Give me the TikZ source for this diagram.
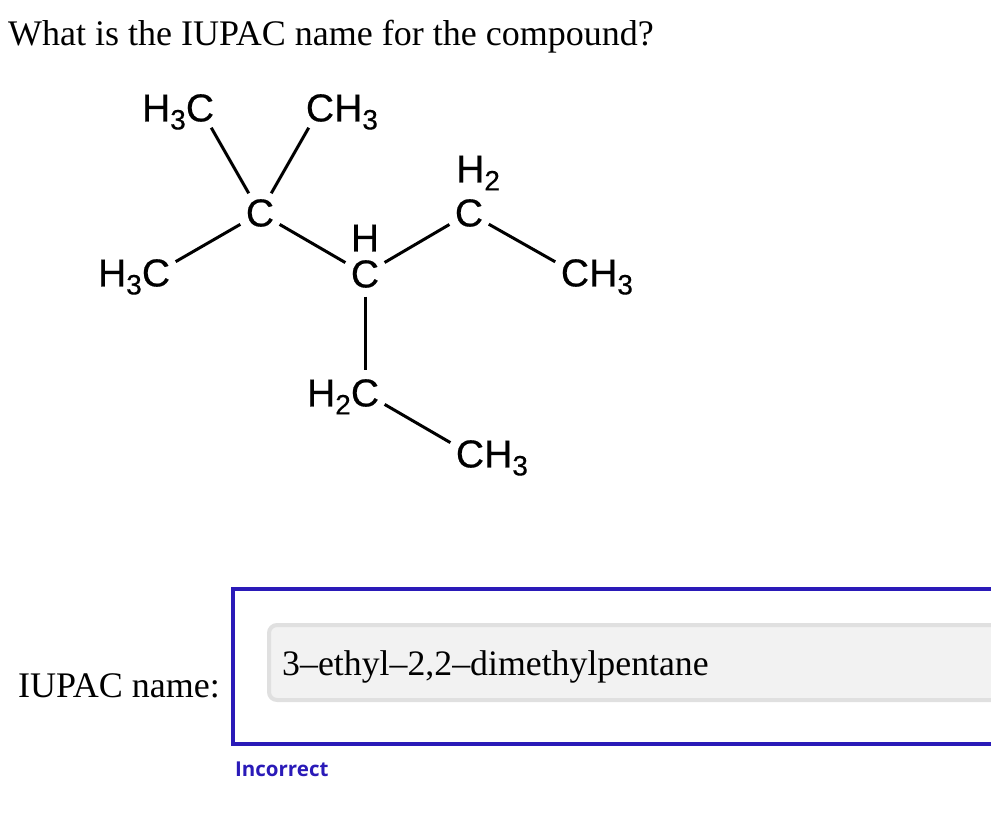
\documentclass[tikz,border=0pt]{standalone}
\usepackage{fontspec}
\setmainfont{Liberation Serif}
\setsansfont[FakeBold=0.4]{Liberation Sans}
\newfontfamily\notefont{Open Sans}
\usetikzlibrary{calc}
\definecolor{markblue}{HTML}{2A1AB8}
\definecolor{fieldgray}{HTML}{E0E0E0}
\definecolor{fieldfill}{HTML}{F2F2F2}
\newcommand{\atomsub}[1]{\raisebox{-8pt}{\fontsize{28}{28}\selectfont #1}}
\tikzset{
  atom/.style={circle,inner sep=0pt,minimum size=45pt,font=\fontsize{39}{39}\sffamily},
  atompart/.style={inner sep=0pt,font=\fontsize{39}{39}\sffamily},
  bond/.style={line width=3pt,black},
  pagetext/.style={inner sep=0pt,anchor=base west,font=\fontsize{36}{36}\selectfont}
}
\begin{document}
\begin{tikzpicture}[x=1pt,y=-1pt]
\useasboundingbox (0,0) rectangle (991,838);
%question
\node[pagetext] (QUESTION) at (8,45) {What is the IUPAC name for the compound?};
%carbons
\node[atom] (CQUAT) at (260,213) {C};
\node[atom] (CTOPL) at (200,108) {C};
\node[atom] (CTOPR) at (320,108) {C};
\node[atom] (CLEFT) at (156,273) {C};
\node[atom] (CHUB) at (365,274) {C};
\node[atom] (CRING) at (469,213) {C};
\node[atom] (CEND) at (575,273) {C};
\node[atom] (CLOW) at (365,393) {C};
\node[atom] (CBOT) at (470,454) {C};
%hydrogens
\node[atompart,anchor=base east] (HTOPL) at ($(CTOPL.base)+(-14,0)$) {H\atomsub{3}};
\node[atompart,anchor=base west] (HTOPR) at ($(CTOPR.base)+(14,0)$) {H\atomsub{3}};
\node[atompart,anchor=base east] (HLEFT) at ($(CLEFT.base)+(-14,0)$) {H\atomsub{3}};
\node[atompart,anchor=base] (HHUB) at ($(CHUB.base)+(0,-36)$) {H};
\node[atompart,anchor=base west] (HRING) at ($(CRING.base)+(-13,-44)$) {H\atomsub{2}};
\node[atompart,anchor=base west] (HEND) at ($(CEND.base)+(14,0)$) {H\atomsub{3}};
\node[atompart,anchor=base east] (HLOW) at ($(CLOW.base)+(-14,0)$) {H\atomsub{2}};
\node[atompart,anchor=base west] (HBOT) at ($(CBOT.base)+(14,0)$) {H\atomsub{3}};
%bonds
\draw[bond] (CTOPL) -- (CQUAT);
\draw[bond] (CTOPR) -- (CQUAT);
\draw[bond] (CLEFT) -- (CQUAT);
\draw[bond] (CQUAT) -- (CHUB);
\draw[bond] (CHUB) -- (CRING);
\draw[bond] (CRING) -- (CEND);
\draw[bond] (CHUB) -- (CLOW);
\draw[bond] (CLOW) -- (CBOT);
%answer
\draw[line width=4pt,markblue] (991,589) -- (233,589) -- (233,744) -- (991,744);
\draw[line width=4pt,fieldgray,fill=fieldfill,rounded corners=8pt] (991,625) -- (269,625) -- (269,700) -- (991,700);
\node[pagetext] (LABEL) at (18,697) {IUPAC name:};
\node[pagetext,font=\fontsize{35.8}{36}\selectfont] (ANSWER) at (282,675) {3--ethyl--2,2--dimethylpentane};
\node[pagetext,font=\fontsize{20.5}{22}\notefont\bfseries,text=markblue] (VERDICT) at (235,776) {Incorrect};
\end{tikzpicture}
\end{document}
